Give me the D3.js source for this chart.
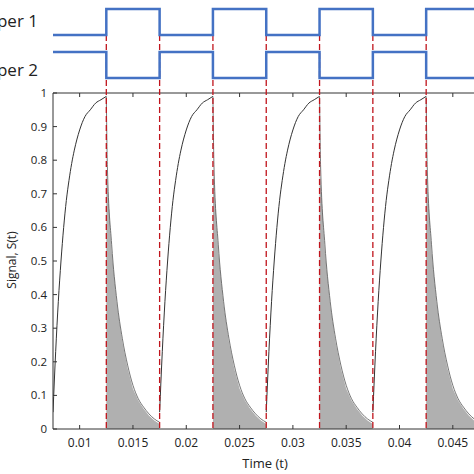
<!DOCTYPE html>
<html><head><meta charset="utf-8">
<script src="https://cdn.jsdelivr.net/npm/d3@7"></script>
<style>body{margin:0;background:#fff}text{font-family:"Open Sans",Arial,sans-serif}</style>
</head><body>
<svg id="chart" width="474" height="474"></svg>
<script>
// one cycle; repeated every 0.01 s
var riseDt   = [0, .00025, .0005, .00075, .001, .00125, .0015, .00175, .002, .0025, .003, .0035, .004, .0045, .005]
var riseVal  = [.05, .23, .38, .50, .60, .68, .74, .79, .83, .89, .93, .95, .97, .98, .99]
var decayDt  = [0, .0001, .0005, .001, .0015, .002, .0025, .003, .0035, .004, .0045, .005]
var decayVal = [.99, .78, .55, .38, .27, .19, .13, .09, .065, .045, .03, .02]
var grayVal  = [.76, .74, .53, .37, .26, .18, .12, .085, .06, .04, .025, .015]
var riseStarts  = [0.0075, 0.0175, 0.0275, 0.0375, 0.0475]
var decayStarts = [0.0125, 0.0225, 0.0325, 0.0425]
var redLines = [0.0125, 0.0175, 0.0225, 0.0275, 0.0325, 0.0375, 0.0425]
var xTicks = [0.01, 0.015, 0.02, 0.025, 0.03, 0.035, 0.04, 0.045]
var yTicks = [0, 0.1, 0.2, 0.3, 0.4, 0.5, 0.6, 0.7, 0.8, 0.9, 1]

var svg = d3.select('#chart')
var x = d3.scaleLinear().domain([0.0075, 0.04905]).range([53, 496])
var y = d3.scaleLinear().domain([0, 1]).range([429, 93])

var plot = svg.append('g')
svg.append('defs').append('clipPath').attr('id', 'clip')
    .append('rect').attr('x', 53).attr('y', 90).attr('width', 421).attr('height', 340)
plot.attr('clip-path', 'url(#clip)')

// gray decay fill
decayStarts.forEach(function (t0) {
    var pts = decayDt.map(function (d, i) { return [t0 + d, grayVal[i]] })
    plot.append('path').datum(pts)
        .attr('fill', '#b0b0b0')
        .attr('d', d3.area().x(function (d) { return x(d[0]) }).y0(y(0)).y1(function (d) { return y(d[1]) }))
})

// black signal curve
var line = d3.line().x(function (d) { return x(d[0]) }).y(function (d) { return y(d[1]) }).curve(d3.curveMonotoneX)
riseStarts.forEach(function (t0) {
    plot.append('path').datum(riseDt.map(function (d, i) { return [t0 + d, riseVal[i]] }))
        .attr('fill', 'none').attr('stroke', '#333').attr('stroke-width', 1).attr('d', line)
})
decayStarts.forEach(function (t0) {
    plot.append('path').datum(decayDt.map(function (d, i) { return [t0 + d, decayVal[i]] }))
        .attr('fill', 'none').attr('stroke', '#555').attr('stroke-width', 0.8).attr('d', line)
})

// axes
svg.append('line').attr('x1', 53).attr('x2', 474).attr('y1', 429).attr('y2', 429).attr('stroke', '#333')
svg.append('line').attr('x1', 53).attr('x2', 474).attr('y1', 93).attr('y2', 93).attr('stroke', '#333')
svg.append('line').attr('x1', 53).attr('x2', 53).attr('y1', 93).attr('y2', 429).attr('stroke', '#333')
xTicks.forEach(function (t) {
    svg.append('line').attr('x1', x(t)).attr('x2', x(t)).attr('y1', 429).attr('y2', 425).attr('stroke', '#333')
    svg.append('line').attr('x1', x(t)).attr('x2', x(t)).attr('y1', 93).attr('y2', 97).attr('stroke', '#333')
    svg.append('text').attr('x', x(t)).attr('y', 447).attr('text-anchor', 'middle')
        .attr('font-size', 12).attr('fill', '#222').text(t)
})
yTicks.forEach(function (v) {
    svg.append('line').attr('x1', 53).attr('x2', 57).attr('y1', y(v)).attr('y2', y(v)).attr('stroke', '#333')
    svg.append('text').attr('x', 47).attr('y', y(v) + 4).attr('text-anchor', 'end')
        .attr('font-size', 11.5).attr('fill', '#222').text(v)
})
svg.append('text').attr('x', 265).attr('y', 468).attr('text-anchor', 'middle')
    .attr('font-size', 13).attr('fill', '#222').text('Time (t)')
svg.append('text').attr('transform', 'translate(16,260) rotate(-90)').attr('text-anchor', 'middle')
    .attr('font-size', 12).attr('fill', '#222').text('Signal, S(t)')

// red dashed markers
redLines.forEach(function (t) {
    svg.append('line').attr('x1', x(t)).attr('x2', x(t)).attr('y1', 35).attr('y2', 429)
        .attr('stroke', '#c0141c').attr('stroke-width', 1.3).attr('stroke-dasharray', '6,3')
})

// chopper square waves
var c1 = [[0.0075, 0]], c2 = [[0.0075, 1]]
decayStarts.forEach(function (t0) {
    c1.push([t0, 0], [t0, 1], [t0 + 0.005, 1], [t0 + 0.005, 0])
    c2.push([t0, 1], [t0, 0], [t0 + 0.005, 0], [t0 + 0.005, 1])
})
c1.push([0.0495, 0]); c2.push([0.0495, 1])
var chopLine = function (hi, lo) {
    return d3.line().x(function (d) { return x(d[0]) }).y(function (d) { return d[1] ? hi : lo })
}
svg.append('path').datum(c1).attr('fill', 'none').attr('stroke', '#4472c4').attr('stroke-width', 2.5).attr('d', chopLine(9, 35))
svg.append('path').datum(c2).attr('fill', 'none').attr('stroke', '#4472c4').attr('stroke-width', 2.5).attr('d', chopLine(52, 78))
svg.append('text').attr('x', 38).attr('y', 27).attr('text-anchor', 'end').attr('font-size', 17).attr('fill', '#222').text('Chopper 1')
svg.append('text').attr('x', 38).attr('y', 76).attr('text-anchor', 'end').attr('font-size', 17).attr('fill', '#222').text('Chopper 2')
</script>
</body></html>
